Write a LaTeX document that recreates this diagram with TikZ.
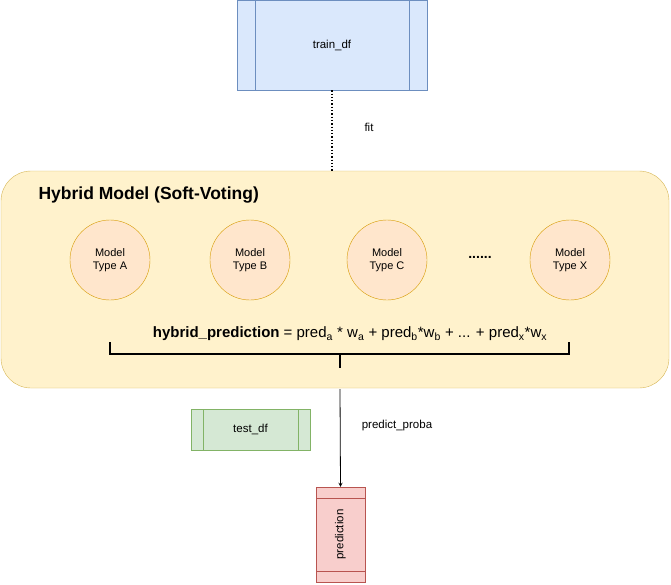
\documentclass[tikz,border=0pt]{standalone}
\usepackage{fontspec}
\setmainfont{Liberation Sans}
\definecolor{bfill}{HTML}{DAE8FC}\definecolor{bline}{HTML}{6C8EBF}
\definecolor{yfill}{HTML}{FFF2CC}\definecolor{yline}{HTML}{D6B656}
\definecolor{ofill}{HTML}{FFE6CC}\definecolor{oline}{HTML}{D79B00}
\definecolor{gfill}{HTML}{D5E8D4}\definecolor{gline}{HTML}{82B366}
\definecolor{rfill}{HTML}{F8CECC}\definecolor{rline}{HTML}{B85450}
\begin{document}
\begin{tikzpicture}[x=1pt,y=-1pt,
  lbl/.style={font=\fontsize{11.5}{13}\selectfont},
  model/.style={circle,draw=oline,fill=ofill,minimum size=80pt,inner sep=0pt,align=center,font=\fontsize{11}{13}\selectfont}]
\useasboundingbox (0,0) rectangle (671,584);
% train_df
\node[draw=bline,fill=bfill,minimum width=190pt,minimum height=90pt,inner sep=0pt,lbl] (train) at (332,45) {train\_df};
\draw[bline] (255,0) -- (255,90) (409,0) -- (409,90);
% hybrid container
\node[draw=yline,fill=yfill,rounded corners=30pt,minimum width=668pt,minimum height=217pt,inner sep=0pt] (hyb) at (335,279.5) {};
\node[anchor=west,font=\fontsize{17.5}{20}\selectfont\bfseries] (title) at (35,195) {Hybrid Model (Soft-Voting)};
\draw[dotted,line width=1.3pt] (train.south) -- (hyb.north -| train.south) coordinate (fitend);
\node[lbl] (fit) at (369,127) {fit};
\node[model] (ma) at (110,260) {Model\\Type A};
\node[model] (mb) at (250,260) {Model\\Type B};
\node[model] (mc) at (387,260) {Model\\Type C};
\node[model] (mx) at (570,260) {Model\\Type X};
\node[font=\fontsize{14}{16}\selectfont\bfseries] (dots) at (480,257) {......};
\node[font=\fontsize{15}{17}\selectfont] (formula) at (350,334) {\textbf{hybrid\_prediction} = pred$_{\mathrm a}$ * w$_{\mathrm a}$ + pred$_{\mathrm b}$*w$_{\mathrm b}$ + ... + pred$_{\mathrm x}$*w$_{\mathrm x}$};
\draw[line width=2pt] (110,342) -- (110,354) -- (569,354) -- (569,342);
\coordinate (bt) at (340,354);
\draw[line width=2pt] (bt) -- (340,368);
% prediction
\node[draw=rline,fill=rfill,minimum width=49pt,minimum height=95pt,inner sep=0pt] (pred) at (340.5,534.5) {};
\draw[rline] (316,498) -- (365,498) (316,571) -- (365,571);
\node[lbl,rotate=90] at (pred.center) {prediction};
\draw[line width=0.8pt,-stealth] (340,389) -- (pred.north);
\node[lbl] (pp) at (397,426) {predict\_proba};
% test_df
\node[draw=gline,fill=gfill,minimum width=119pt,minimum height=41pt,inner sep=0pt,lbl] (test) at (250.5,429.5) {test\_df};
\draw[gline] (203,409) -- (203,450) (298,409) -- (298,450);
\end{tikzpicture}
\end{document}
